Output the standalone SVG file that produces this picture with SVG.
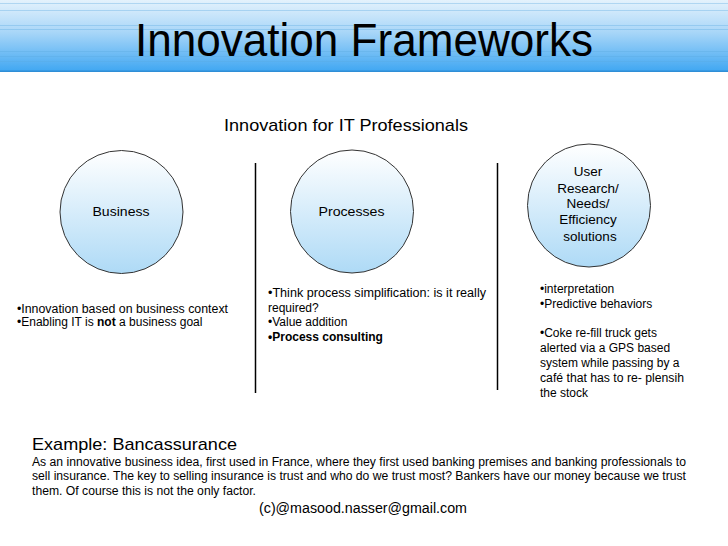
<svg xmlns="http://www.w3.org/2000/svg" width="728" height="546" viewBox="0 0 728 546">
<defs>
<linearGradient id="hdr" x1="0" y1="0" x2="0" y2="1">
<stop offset="0" stop-color="#e4f2fc"/>
<stop offset="0.45" stop-color="#a8d6f8"/>
<stop offset="1" stop-color="#3ea6f2"/>
</linearGradient>
<linearGradient id="ball" x1="0" y1="0" x2="0" y2="1">
<stop offset="0" stop-color="#ffffff"/>
<stop offset="1" stop-color="#aedaf6"/>
</linearGradient>
<style>
text{font-family:"Liberation Sans",Arial,sans-serif;fill:#000}
.circ{fill:url(#ball);stroke:#333;stroke-width:1}
.lbl{font-size:13.5px;text-anchor:middle}
.bl{font-size:12px}
.stripe{stroke:#5aa8e0;stroke-opacity:0.35;stroke-width:1}
.div{stroke:#000;stroke-width:1.5}
</style>
</defs>
<g id="header">
<rect x="0" y="0" width="728" height="72" fill="url(#hdr)"/>
<line class="stripe" x1="0" y1="3.5" x2="728" y2="3.5"/>
<line class="stripe" x1="0" y1="10.5" x2="728" y2="10.5"/>
<line class="stripe" x1="0" y1="25.5" x2="728" y2="25.5"/>
<line class="stripe" x1="0" y1="29.5" x2="728" y2="29.5"/>
<line class="stripe" x1="0" y1="51.5" x2="728" y2="51.5"/>
<line class="stripe" x1="0" y1="56.5" x2="728" y2="56.5"/>
<line class="stripe" x1="0" y1="61.5" x2="728" y2="61.5"/>
<rect x="0" y="70.5" width="728" height="1.5" fill="#2f8ed6"/>
<text x="364" y="56" font-size="47" text-anchor="middle" textLength="458" lengthAdjust="spacingAndGlyphs">Innovation Frameworks</text>
</g>
<text x="224" y="131" font-size="17" textLength="244" lengthAdjust="spacingAndGlyphs">Innovation for IT Professionals</text>
<g id="business">
<circle class="circ" cx="121.5" cy="212" r="61.5"/>
<text class="lbl" x="121" y="216" textLength="57" lengthAdjust="spacingAndGlyphs">Business</text>
</g>
<g id="processes">
<circle class="circ" cx="352" cy="211.5" r="61.5"/>
<text class="lbl" x="351.5" y="216" textLength="66" lengthAdjust="spacingAndGlyphs">Processes</text>
</g>
<g id="user">
<circle class="circ" cx="589" cy="205.5" r="61.5"/>
<text class="lbl" x="588" y="176">User</text>
<text class="lbl" x="588" y="192.7">Research/</text>
<text class="lbl" x="588" y="208.3">Needs/</text>
<text class="lbl" x="588" y="224.3">Efficiency</text>
<text class="lbl" x="590" y="241">solutions</text>
</g>
<g id="connectors">
<line class="div" x1="255.5" y1="163" x2="255.5" y2="393"/>
<line class="div" x1="497.5" y1="163" x2="497.5" y2="390"/>
</g>
<g id="business-notes">
<text class="bl" x="17" y="312.7" textLength="211" lengthAdjust="spacingAndGlyphs">•Innovation based on business context</text>
<text class="bl" x="17" y="325.7">•Enabling IT is <tspan font-weight="bold">not</tspan> a business goal</text>
</g>
<g id="process-notes">
<text class="bl" x="268" y="297.3" textLength="218" lengthAdjust="spacingAndGlyphs">•Think process simplification: is it really</text>
<text class="bl" x="268" y="311.5">required?</text>
<text class="bl" x="268" y="326">•Value addition</text>
<text class="bl" x="268" y="340.7" font-weight="bold">•Process consulting</text>
</g>
<g id="user-notes">
<text class="bl" x="540" y="293.3">•interpretation</text>
<text class="bl" x="540" y="307.7">•Predictive behaviors</text>
<text class="bl" x="540" y="336.7">•Coke re-fill truck gets</text>
<text class="bl" x="540" y="352">alerted via a GPS based</text>
<text class="bl" x="540" y="367.3">system while passing by a</text>
<text class="bl" x="540" y="382" textLength="144" lengthAdjust="spacingAndGlyphs">café that has to re- plensih</text>
<text class="bl" x="540" y="396.5">the stock</text>
</g>
<g id="example">
<text x="32" y="450" font-size="17" textLength="205" lengthAdjust="spacingAndGlyphs">Example: Bancassurance</text>
<text x="32" y="465.5" font-size="12" textLength="654" lengthAdjust="spacingAndGlyphs">As an innovative business idea, first used in France, where they first used banking premises and banking professionals to</text>
<text x="32" y="480" font-size="12" textLength="654" lengthAdjust="spacingAndGlyphs">sell insurance. The key to selling insurance is trust and who do we trust most? Bankers have our money because we trust</text>
<text x="32" y="494.5" font-size="12" textLength="224" lengthAdjust="spacingAndGlyphs">them. Of course this is not the only factor.</text>
<text x="363" y="513" font-size="14" text-anchor="middle" textLength="208" lengthAdjust="spacingAndGlyphs">(c)@masood.nasser@gmail.com</text>
</g>
</svg>
